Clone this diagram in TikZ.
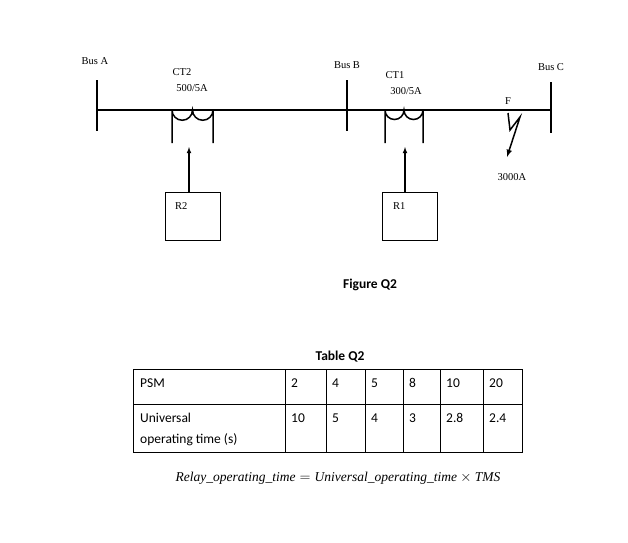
\documentclass[tikz,border=0pt]{standalone}
\usepackage{fontspec}
\setmainfont{Liberation Serif}
\newfontfamily\carfont{Carlito}
\begin{document}
\begin{tikzpicture}[x=1pt,y=-1pt,
 lbl/.style={font=\fontsize{10.5}{12}\selectfont,inner sep=0pt},
 tb/.style={font=\carfont\fontsize{13.5}{16}\selectfont,inner sep=0pt,anchor=west},
 box/.style={draw,line width=1pt,minimum width=55pt,minimum height=48pt,inner sep=0pt},
 ln/.style={line width=1.1pt}]
\useasboundingbox (0,0) rectangle (628,542);
% buses
\coordinate (A1) at (97,80); \coordinate (A2) at (97,131);
\coordinate (B1) at (347,80); \coordinate (B2) at (347,131);
\coordinate (C1) at (551,82); \coordinate (C2) at (551,133);
\draw[ln] (A1)--(A2); \draw[ln] (B1)--(B2); \draw[ln] (C1)--(C2);
\coordinate (L1) at (97,110); \coordinate (L2) at (551,110);
\draw[ln] (L1)--(L2);
\node[lbl] (bA) at (95,61) {Bus A};
\node[lbl] (bB) at (347,65) {Bus B};
\node[lbl] (bC) at (551,67) {Bus C};
\node[lbl] (ct2) at (182,72) {CT2};
\node[lbl] (ct2r) at (192,88) {500/5A};
\node[lbl] (ct1) at (395,75) {CT1};
\node[lbl] (ct1r) at (406,91) {300/5A};
\node[lbl] (F) at (508,101) {F};
\node[lbl] (fa) at (512,177) {3000A};
% CTs
\draw[line width=1.5pt] (172,143)--(172,110) arc(180:0:10.25) arc(180:0:10.25) -- (213,143);
\draw[line width=1.5pt] (385,143)--(385,110) arc(180:0:9.5) arc(180:0:9.5) -- (423,143);
% relays
\node[box] (R2) at (193,216) {}; \node[lbl,anchor=north west] at (175,202) {R2};
\node[box] (R1) at (410,216) {}; \node[lbl,anchor=north west] at (393,202) {R1};
\coordinate (a2) at (189,147); \coordinate (a1) at (405,147);
\draw[ln,-latex] (R2.north -| a2) -- (a2);
\draw[ln,-latex] (R1.north -| a1) -- (a1);
% fault
\coordinate (f0) at (508,113); \coordinate (f1) at (510,130); \coordinate (f2) at (520,117); \coordinate (f3) at (507,157);
\draw[line width=1.5pt,-latex] (f0)--(f1)--(f2)--(f3);
\node[font=\carfont\bfseries\fontsize{13.5}{16}\selectfont] (fig) at (370,285) {Figure Q2};
\node[font=\carfont\bfseries\fontsize{13.5}{16}\selectfont] (tab) at (340,357) {Table Q2};
% table
\draw[line width=0.9pt] (133,369) rectangle (522,452);
\draw[line width=0.9pt] (133,404)--(522,404);
\foreach \x in {285,326,365,403,440,483} \draw[line width=0.9pt] (\x,369)--(\x,452);
\node[tb] at (140,383) {PSM};
\node[tb] at (140,418) {Universal};
\node[tb] at (140,440) {operating time (s)};
\foreach \x/\a/\b in {285/2/10,326/4/5,365/5/4,403/8/3,440/10/2.8,483/20/2.4}{
 \node[tb] at (\x+6,383) {\a}; \node[tb] at (\x+6,418) {\b};}
\node[font=\fontsize{13.5}{16}\selectfont] (eq) at (338,478) {$\mathit{Relay\_operating\_time} = \mathit{Universal\_operating\_time} \times \mathit{TMS}$};
\end{tikzpicture}
\end{document}
